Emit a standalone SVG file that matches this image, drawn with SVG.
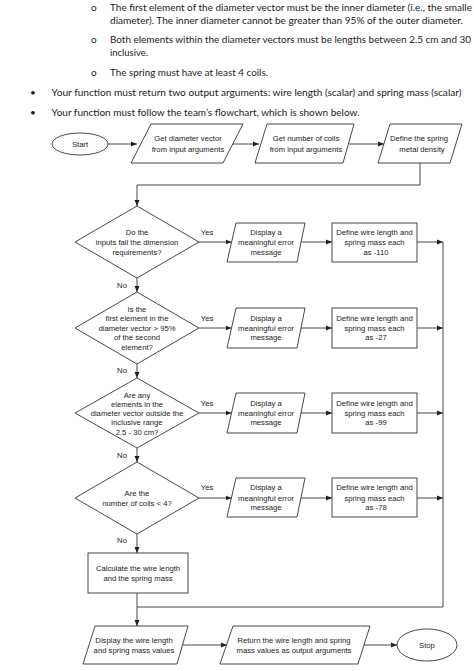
<svg xmlns="http://www.w3.org/2000/svg" width="474" height="671" viewBox="0 0 474 671">
<defs>
<marker id="arr" markerWidth="6" markerHeight="6" refX="6" refY="3" orient="auto" markerUnits="userSpaceOnUse">
<path d="M0,0.5 L6,3 L0,5.5 z" fill="#222"/>
</marker>
<style>
.doc{font-family:Lato,"Liberation Sans",Arial,sans-serif;font-size:10px;fill:#1a1a1a}
.t{font-family:"Liberation Sans",Arial,sans-serif;font-size:7.7px;fill:#222;text-anchor:middle}
.s{fill:#fff;stroke:#333;stroke-width:0.9}
.c{fill:none;stroke:#333;stroke-width:0.9}
.lbl{font-family:"Liberation Sans",Arial,sans-serif;font-size:7.7px;fill:#222;text-anchor:middle}
</style>
</defs>
<rect width="474" height="671" fill="#fff"/>
<g id="doctext">
<text class="doc" x="91" y="11" font-size="9">o</text>
<text class="doc" x="110" y="11" textLength="362" lengthAdjust="spacingAndGlyphs">The first element of the diameter vector must be the inner diameter (i.e., the smalle</text>
<text class="doc" x="110" y="24" textLength="353" lengthAdjust="spacingAndGlyphs">diameter). The inner diameter cannot be greater than 95% of the outer diameter.</text>
<text class="doc" x="91" y="43" font-size="9">o</text>
<text class="doc" x="110" y="43" textLength="361" lengthAdjust="spacingAndGlyphs">Both elements within the diameter vectors must be lengths between 2.5 cm and 30</text>
<text class="doc" x="110" y="56" textLength="38" lengthAdjust="spacingAndGlyphs">inclusive.</text>
<text class="doc" x="91" y="76" font-size="9">o</text>
<text class="doc" x="110" y="76" textLength="158" lengthAdjust="spacingAndGlyphs">The spring must have at least 4 coils.</text>
<text class="doc" x="30" y="96">•</text>
<text class="doc" x="51.5" y="96" textLength="410" lengthAdjust="spacingAndGlyphs">Your function must return two output arguments: wire length (scalar) and spring mass (scalar)</text>
<text class="doc" x="30" y="116">•</text>
<text class="doc" x="51.5" y="116" textLength="308" lengthAdjust="spacingAndGlyphs">Your function must follow the team’s flowchart, which is shown below.</text>
</g>
<g id="connectors">
<line class="c" x1="108" y1="144" x2="137" y2="144" marker-end="url(#arr)"/>
<line class="c" x1="233" y1="144" x2="259" y2="144" marker-end="url(#arr)"/>
<line class="c" x1="349" y1="144" x2="384" y2="144" marker-end="url(#arr)"/>
<polyline class="c" points="420,163 420,185 137,185 137,206" marker-end="url(#arr)"/>
<line class="c" x1="199" y1="242" x2="231.5" y2="242" marker-end="url(#arr)"/>
<line class="c" x1="301" y1="242" x2="332" y2="242" marker-end="url(#arr)"/>
<line class="c" x1="417" y1="242" x2="443" y2="242" marker-end="url(#arr)"/>
<line class="c" x1="137" y1="278" x2="137" y2="292" marker-end="url(#arr)"/>
<line class="c" x1="199" y1="328" x2="231.5" y2="328" marker-end="url(#arr)"/>
<line class="c" x1="301" y1="328" x2="332" y2="328" marker-end="url(#arr)"/>
<line class="c" x1="417" y1="328" x2="443" y2="328" marker-end="url(#arr)"/>
<line class="c" x1="137" y1="364" x2="137" y2="378" marker-end="url(#arr)"/>
<line class="c" x1="199" y1="413" x2="231.5" y2="413" marker-end="url(#arr)"/>
<line class="c" x1="301" y1="413" x2="332" y2="413" marker-end="url(#arr)"/>
<line class="c" x1="417" y1="413" x2="443" y2="413" marker-end="url(#arr)"/>
<line class="c" x1="137" y1="448" x2="137" y2="462" marker-end="url(#arr)"/>
<line class="c" x1="199" y1="498" x2="231.5" y2="498" marker-end="url(#arr)"/>
<line class="c" x1="301" y1="498" x2="332" y2="498" marker-end="url(#arr)"/>
<line class="c" x1="417" y1="498" x2="443" y2="498" marker-end="url(#arr)"/>
<line class="c" x1="137" y1="534" x2="137" y2="553" marker-end="url(#arr)"/>
<polyline class="c" points="443,242 443,607 137,607"/>
<line class="c" x1="137" y1="593" x2="137" y2="626" marker-end="url(#arr)"/>
<line class="c" x1="183" y1="645" x2="227" y2="645" marker-end="url(#arr)"/>
<line class="c" x1="364" y1="645" x2="397" y2="645" marker-end="url(#arr)"/>
<text class="lbl" x="207" y="234.5">Yes</text>
<text class="lbl" x="122" y="287.5">No</text>
<text class="lbl" x="207" y="320.5">Yes</text>
<text class="lbl" x="122" y="372.5">No</text>
<text class="lbl" x="207" y="405.5">Yes</text>
<text class="lbl" x="122" y="457.5">No</text>
<text class="lbl" x="207" y="489.5">Yes</text>
<text class="lbl" x="122" y="542.5">No</text>
</g>
<g id="start">
<ellipse class="s" cx="80" cy="144" rx="28" ry="11"/>
<text class="t" x="80" y="146.7">Start</text>
</g>
<g id="get-diameter">
<polygon class="s" points="151,124 243,124 223,163 131,163"/>
<text class="t" x="188" y="140.7">Get diameter vector</text>
<text class="t" x="188" y="151.7">from input arguments</text>
</g>
<g id="get-coils">
<polygon class="s" points="267,124 354,124 343,163 255,163"/>
<text class="t" x="306" y="140.7">Get number of coils</text>
<text class="t" x="306" y="151.7">from input arguments</text>
</g>
<g id="define-density">
<polygon class="s" points="390,124 462,124 450,163 378,163"/>
<text class="t" x="419" y="140.7">Define the spring</text>
<text class="t" x="422" y="151.7">metal density</text>
</g>
<g id="decision-dimension">
<polygon class="s" points="137,206 199,242 137,278 75,242"/>
<text class="t" x="137" y="234.7">Do the</text>
<text class="t" x="137" y="244.7">inputs fail the dimension</text>
<text class="t" x="137" y="254.7">requirements?</text>
</g>
<g id="error1">
<polygon class="s" points="236,223 305,223 297,262 227,262"/>
<text class="t" x="266" y="234.7">Display a</text>
<text class="t" x="266" y="244.7">meaningful error</text>
<text class="t" x="266" y="254.7">message</text>
</g>
<g id="define110">
<rect class="s" x="332" y="223" width="85" height="39"/>
<text class="t" x="374.5" y="234.7">Define wire length and</text>
<text class="t" x="374.5" y="244.7">spring mass each</text>
<text class="t" x="376" y="254.7">as -110</text>
</g>
<g id="decision-ratio">
<polygon class="s" points="137,292 199,328 137,364 75,328"/>
<text class="t" x="137" y="311.7">Is the</text>
<text class="t" x="137" y="321.2">first element in the</text>
<text class="t" x="137" y="330.7">diameter vector &gt; 95%</text>
<text class="t" x="137" y="340.2">of the second</text>
<text class="t" x="137" y="349.7">element?</text>
</g>
<g id="error2">
<polygon class="s" points="236,308 305,308 297,348 227,348"/>
<text class="t" x="266" y="320.7">Display a</text>
<text class="t" x="266" y="330.7">meaningful error</text>
<text class="t" x="266" y="340.2">message</text>
</g>
<g id="define27">
<rect class="s" x="332" y="308" width="85" height="40"/>
<text class="t" x="374.5" y="320.7">Define wire length and</text>
<text class="t" x="374.5" y="330.7">spring mass each</text>
<text class="t" x="376" y="340.2">as -27</text>
</g>
<g id="decision-range">
<polygon class="s" points="137,378 199,413 137,448 75,413"/>
<text class="t" x="137" y="397.7">Are any</text>
<text class="t" x="137" y="406.7">elements in the</text>
<text class="t" x="137" y="415.7">diameter vector outside the</text>
<text class="t" x="137" y="425.2">inclusive range</text>
<text class="t" x="137" y="434.7">2.5 - 30 cm?</text>
</g>
<g id="error3">
<polygon class="s" points="236,393 305,393 297,433 227,433"/>
<text class="t" x="266" y="405.7">Display a</text>
<text class="t" x="266" y="415.7">meaningful error</text>
<text class="t" x="266" y="425.2">message</text>
</g>
<g id="define99">
<rect class="s" x="332" y="393" width="85" height="40"/>
<text class="t" x="374.5" y="405.7">Define wire length and</text>
<text class="t" x="374.5" y="415.7">spring mass each</text>
<text class="t" x="376" y="425.2">as -99</text>
</g>
<g id="decision-coils">
<polygon class="s" points="137,462 199,498 137,534 75,498"/>
<text class="t" x="137" y="495.7">Are the</text>
<text class="t" x="137" y="505.7">number of coils &lt; 4?</text>
</g>
<g id="error4">
<polygon class="s" points="236,478 305,478 297,517 227,517"/>
<text class="t" x="266" y="489.7">Display a</text>
<text class="t" x="266" y="500.7">meaningful error</text>
<text class="t" x="266" y="509.7">message</text>
</g>
<g id="define78">
<rect class="s" x="332" y="478" width="85" height="39"/>
<text class="t" x="374.5" y="489.7">Define wire length and</text>
<text class="t" x="374.5" y="500.7">spring mass each</text>
<text class="t" x="376" y="509.7">as -78</text>
</g>
<g id="calculate">
<rect class="s" x="88" y="553" width="100" height="40"/>
<text class="t" x="138" y="570.7">Calculate the wire length</text>
<text class="t" x="138" y="580.7">and the spring mass</text>
</g>
<g id="display-values">
<polygon class="s" points="95,626 188,626 177,664 83,664"/>
<text class="t" x="134" y="642.7">Display the wire length</text>
<text class="t" x="134" y="652.7">and spring mass values</text>
</g>
<g id="return-values">
<polygon class="s" points="233,626 370,626 358,664 220,664"/>
<text class="t" x="294" y="642.7">Return the wire length and spring</text>
<text class="t" x="294" y="652.7">mass values as output arguments</text>
</g>
<g id="stop">
<ellipse class="s" cx="427" cy="645" rx="30" ry="16"/>
<text class="t" x="427" y="647.7">Stop</text>
</g>
</svg>
